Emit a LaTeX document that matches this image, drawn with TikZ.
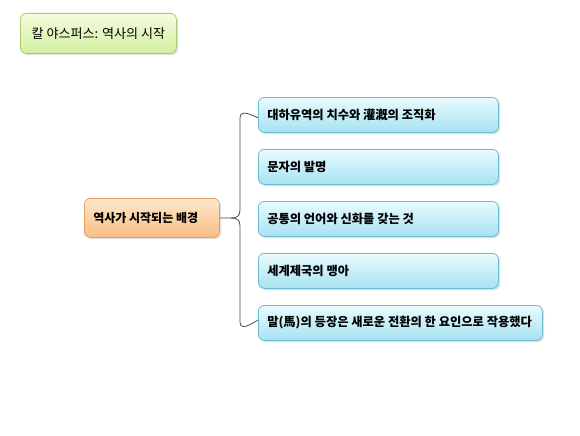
\documentclass[tikz,border=0pt]{standalone}
\usepackage{fontspec}
\setmainfont{Noto Sans CJK KR}
\usetikzlibrary{shadows}
\definecolor{gtop}{HTML}{F4FDDC}
\definecolor{gbot}{HTML}{D2F0A0}
\definecolor{gline}{HTML}{A8CC78}
\definecolor{otop}{HTML}{FEE8CC}
\definecolor{obot}{HTML}{F8BE84}
\definecolor{oline}{HTML}{E8A060}
\definecolor{btop}{HTML}{EAFBFF}
\definecolor{bbot}{HTML}{A6E2F2}
\definecolor{bline}{HTML}{6CBCD4}
\definecolor{conn}{HTML}{505050}
\tikzset{
  base/.style={rounded corners=4.5pt, line width=0.6pt, inner sep=0pt, anchor=north west,
    drop shadow={shadow xshift=1.2pt, shadow yshift=-1.2pt, opacity=0.25}},
  titlebox/.style={base, draw=gline, top color=gtop, bottom color=gbot},
  rootbox/.style={base, draw=oline, top color=otop, bottom color=obot},
  leafbox/.style={base, draw=bline, top color=btop, bottom color=bbot},
  lbl/.style={font=\fontsize{9.2pt}{11pt}\selectfont\bfseries, anchor=west, inner sep=0pt},
  connector/.style={draw=conn, line width=0.6pt},
}
\begin{document}
\begin{tikzpicture}[x=0.75pt,y=-0.75pt]
\useasboundingbox (0,0) rectangle (580,435);
\fill[white] (0,0) rectangle (580,435);
% title
\node[titlebox, minimum width=156*0.75pt, minimum height=40*0.75pt] (title) at (20,13) {};
\node[font=\fontsize{9.8pt}{12pt}\selectfont, inner sep=0pt] (titletxt) at (title.center) {칼 야스퍼스: 역사의 시작};
% root
\node[rootbox, minimum width=135*0.75pt, minimum height=39*0.75pt] (root) at (84,198) {};
\node[lbl, font=\fontsize{9pt}{11pt}\selectfont\bfseries] (roottxt) at ([xshift=9*0.75pt]root.west) {역사가 시작되는 배경};
% leaves
\node[leafbox, minimum width=240*0.75pt, minimum height=35*0.75pt] (l1) at (258,97) {};
\node[lbl] (t1) at ([xshift=9*0.75pt]l1.west) {대하유역의 치수와 灌漑의 조직화};
\node[leafbox, minimum width=240*0.75pt, minimum height=35*0.75pt] (l2) at (258,149) {};
\node[lbl] (t2) at ([xshift=9*0.75pt]l2.west) {문자의 발명};
\node[leafbox, minimum width=240*0.75pt, minimum height=35*0.75pt] (l3) at (258,201) {};
\node[lbl] (t3) at ([xshift=9*0.75pt]l3.west) {공통의 언어와 신화를 갖는 것};
\node[leafbox, minimum width=240*0.75pt, minimum height=35*0.75pt] (l4) at (258,253) {};
\node[lbl] (t4) at ([xshift=9*0.75pt]l4.west) {세계제국의 맹아};
\node[leafbox, minimum width=284*0.75pt, minimum height=35*0.75pt] (l5) at (258,305) {};
\node[lbl] (t5) at ([xshift=9*0.75pt]l5.west) {말(馬)의 등장은 새로운 전환의 한 요인으로 작용했다};
% brace connector
\coordinate (bmid) at (231,218);
\draw[connector] (root.east) -- (bmid);
\draw[connector] (bmid) .. controls (237,218) and (240,216) .. (240,210)
  -- (240,118) .. controls (240,112) and (244,111) .. ([yshift=-3*0.75pt]l1.west);
\draw[connector] (bmid) .. controls (237,218) and (240,220) .. (240,226)
  -- (240,322) .. controls (240,328) and (244,329) .. ([yshift=3*0.75pt]l5.west);
\end{tikzpicture}
\end{document}
